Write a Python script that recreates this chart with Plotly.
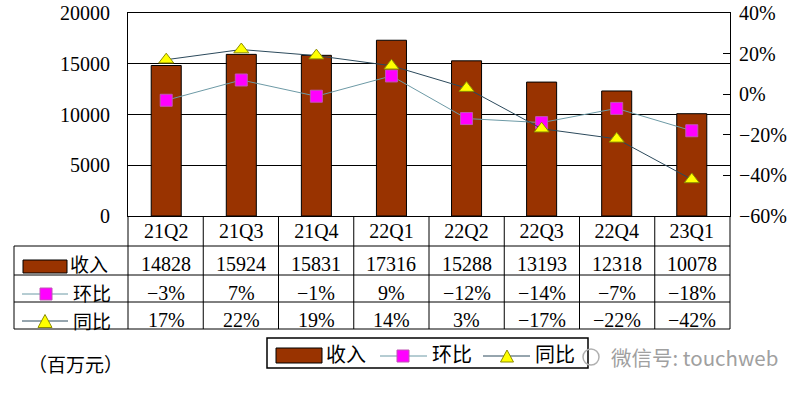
import plotly.graph_objects as go

# ---------------- data ----------------
quarters = ["21Q2", "21Q3", "21Q4", "22Q1", "22Q2", "22Q3", "22Q4", "23Q1"]
revenue = [14828, 15924, 15831, 17316, 15288, 13193, 12318, 10078]
qoq = [-3, 7, -1, 9, -12, -14, -7, -18]      # 环比 (%)
yoy = [17, 22, 19, 14, 3, -17, -22, -42]     # 同比 (%)
left_ticks = [0, 5000, 10000, 15000, 20000]
right_ticks = [-60, -40, -20, 0, 20, 40]
right_ticktext = ["−60%", "−40%", "−20%", "0%", "20%", "40%"]
series_names = ["收入", "环比", "同比"]
unit_label = "（百万元）"
watermark = "微信号: touchweb"

# ---------------- style ----------------
W, H = 800, 395
ML, MR, MT, MB = 128, 70, 13, 179
PW, PH = W - ML - MR, H - MT - MB
FONT = "Liberation Serif, Noto Sans CJK SC, serif"
CJK = "Noto Sans CJK SC, sans-serif"
BAR_C = "#993300"
QOQ_LINE = "#6d9aa6"
YOY_LINE = "#2c4a5c"
SQ_FILL, SQ_EDGE = "#ff00ff", "#c055b5"
TRI_FILL, TRI_EDGE = "#ffff00", "#8c8c00"


def PX(px):
    return (px - ML) / PW


def PY(py):
    return (H - MB - py) / PH


def fmt_pct(v):
    return ("−" if v < 0 else "") + f"{abs(v)}%"


fig = go.Figure()
fig.add_trace(go.Bar(x=quarters, y=revenue, name=series_names[0], width=0.4,
                     marker=dict(color=BAR_C, line=dict(color="black", width=1)),
                     showlegend=False))
fig.add_trace(go.Scatter(x=quarters, y=qoq, name=series_names[1], yaxis="y2",
                         mode="lines+markers", line=dict(color=QOQ_LINE, width=1),
                         marker=dict(symbol="square", size=12, color=SQ_FILL,
                                     line=dict(color=SQ_EDGE, width=1)),
                         showlegend=False))
fig.add_trace(go.Scatter(x=quarters, y=yoy, name=series_names[2], yaxis="y2",
                         mode="lines+markers", line=dict(color=YOY_LINE, width=1),
                         marker=dict(symbol="triangle-up", size=13, color=TRI_FILL,
                                     line=dict(color=TRI_EDGE, width=1)),
                         showlegend=False))

shapes = []
annos = []


def hline(x0, x1, y, color="black", width=1):
    shapes.append(dict(type="line", xref="paper", yref="paper", x0=PX(x0), x1=PX(x1),
                       y0=PY(y), y1=PY(y), line=dict(color=color, width=width)))


def vline(x, y0, y1):
    shapes.append(dict(type="line", xref="paper", yref="paper", x0=PX(x), x1=PX(x),
                       y0=PY(y0), y1=PY(y1), line=dict(color="black", width=1)))


def rect(x0, x1, y0, y1, fill, edge="black", width=1):
    shapes.append(dict(type="rect", xref="paper", yref="paper", x0=PX(x0), x1=PX(x1),
                       y0=PY(y0), y1=PY(y1), fillcolor=fill, line=dict(color=edge, width=width)))


def tri(cx, cy, w, h):
    p = (f"M{PX(cx - w / 2)},{PY(cy + h / 2)} L{PX(cx + w / 2)},{PY(cy + h / 2)} "
         f"L{PX(cx)},{PY(cy - h / 2)} Z")
    shapes.append(dict(type="path", xref="paper", yref="paper", path=p,
                       fillcolor=TRI_FILL, line=dict(color=TRI_EDGE, width=1)))


def text(x, y, t, size=20, anchor="left", color="black", family=FONT):
    annos.append(dict(xref="paper", yref="paper", x=PX(x), y=PY(y), text=t,
                      showarrow=False, xanchor=anchor, yanchor="middle",
                      font=dict(size=size, color=color, family=family)))


# ---- data table grid ----
n = len(quarters)
row_lines = [246, 275, 302, 329]
for yv in row_lines:
    hline(14, ML + PW, yv)
for k in range(n + 1):
    shapes.append(dict(type="line", xref="paper", yref="paper", x0=k / n, x1=k / n,
                       y0=PY(216), y1=PY(329), line=dict(color="black", width=1)))
vline(14, 246, 329)

# ---- table values ----
row_text_y = [264, 293, 320]
rows = [[str(v) for v in revenue], [fmt_pct(v) for v in qoq], [fmt_pct(v) for v in yoy]]
for ry, vals in zip(row_text_y, rows):
    for q, t in zip(quarters, vals):
        annos.append(dict(xref="x", yref="paper", x=q, y=PY(ry), text=t, showarrow=False,
                          xanchor="center", yanchor="middle",
                          font=dict(size=20, color="black", family=FONT)))

# ---- table row labels with symbols ----
rect(23, 67, 260, 273, BAR_C)
text(68, 263, series_names[0], size=19, family=CJK)
hline(22, 68, 294, QOQ_LINE)
rect(40, 52, 288, 300, SQ_FILL, SQ_EDGE)
text(71, 292, series_names[1], size=19, family=CJK)
hline(22, 68, 321, YOY_LINE)
tri(45, 321, 14, 13)
text(71, 320.5, series_names[2], size=19, family=CJK)

# ---- bottom legend ----
rect(267, 588, 338, 368, "rgba(0,0,0,0)", "black", 1.5)
rect(276, 322, 348, 363, BAR_C)
text(324, 354, series_names[0], size=20, family=CJK)
hline(380, 427, 356, QOQ_LINE)
rect(397, 409, 350, 362, SQ_FILL, SQ_EDGE)
text(430, 354, series_names[1], size=20, family=CJK)
hline(483, 530, 356, YOY_LINE)
tri(507, 356, 13, 12)
text(533, 354, series_names[2], size=20, family=CJK)

# ---- unit label & watermark ----
text(26, 363, unit_label, size=19, family=CJK)
shapes.append(dict(type="circle", xref="paper", yref="paper", x0=PX(583), x1=PX(599),
                   y0=PY(349), y1=PY(365), line=dict(color="#b0b0b0", width=1.5)))
text(609, 357, watermark, size=20.5, color="#a0a0a0", family="Noto Sans CJK SC, sans-serif")

fig.update_layout(
    width=W, height=H, autosize=False,
    margin=dict(l=ML, r=MR, t=MT, b=MB, pad=0),
    paper_bgcolor="white", plot_bgcolor="white",
    bargap=0.6,
    font=dict(family=FONT, size=20, color="black"),
    xaxis=dict(type="category", showline=True, mirror=True, linecolor="black", linewidth=1,
               showgrid=False, ticks="", tickfont=dict(size=20, family=FONT),
               ticklabelstandoff=-3, fixedrange=True, automargin=False),
    yaxis=dict(range=[0, 20000], tickvals=left_ticks, tickformat="d", showgrid=True,
               gridcolor="black", gridwidth=1, showline=True, linecolor="black",
               zeroline=False, ticks="", tickfont=dict(size=20, family=FONT),
               ticklabelstandoff=13, automargin=False),
    yaxis2=dict(range=[-60, 40], tickvals=right_ticks, ticktext=right_ticktext,
                overlaying="y", side="right", showgrid=False, showline=True,
                linecolor="black", zeroline=False, ticks="inside", ticklen=7,
                tickcolor="black", tickfont=dict(size=20, family=FONT),
                ticklabelstandoff=4, automargin=False),
    shapes=shapes, annotations=annos,
)

fig.write_html("out.html", config={"displayModeBar": False},
               post_script="document.body.style.margin='0px';document.body.style.overflow='hidden';")
